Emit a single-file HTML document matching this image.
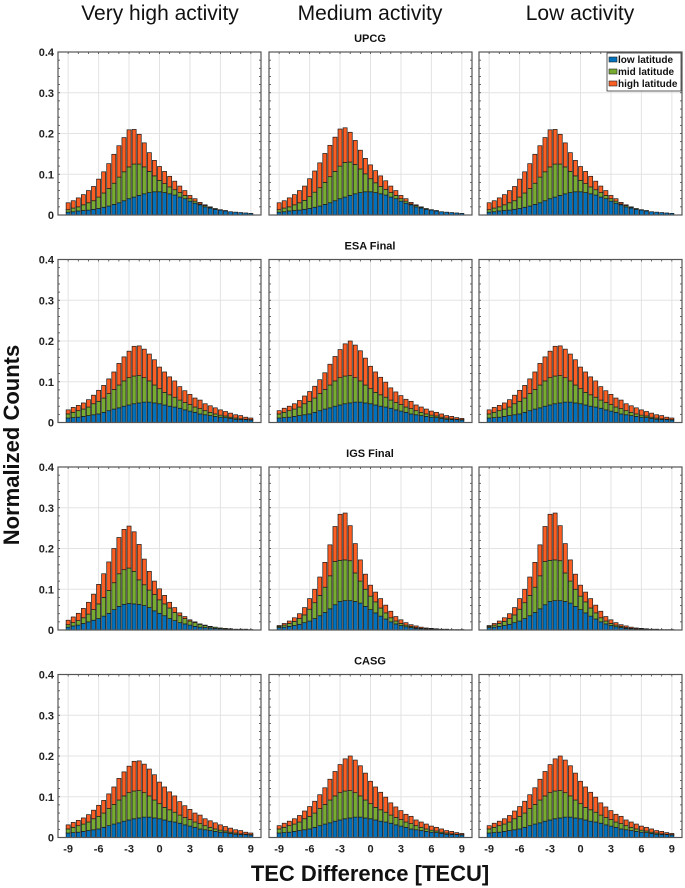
<!DOCTYPE html>
<html><head><meta charset="utf-8">
<style>
html,body{margin:0;padding:0;background:#fff;}
svg{display:block;font-family:"Liberation Sans",Arial,sans-serif;}
</style></head>
<body>
<svg id="fig" width="685" height="888" viewBox="0 0 685 888" xmlns="http://www.w3.org/2000/svg">
<text x="160" y="20" font-size="21" text-anchor="middle" fill="#111">Very high activity</text>
<text x="370" y="20" font-size="21" text-anchor="middle" fill="#111">Medium activity</text>
<text x="580" y="20" font-size="21" text-anchor="middle" fill="#111">Low activity</text>
<text transform="translate(19,445) rotate(-90)" font-size="22" font-weight="bold" text-anchor="middle" fill="#111">Normalized Counts</text>
<text x="370" y="881" font-size="22" font-weight="bold" text-anchor="middle" fill="#111">TEC Difference [TECU]</text>
<g id="panels"></g>
</svg>
<script>
const bins=[-9,-8.5,-8,-7.5,-7,-6.5,-6,-5.5,-5,-4.5,-4,-3.5,-3,-2.5,-2,-1.5,-1,-0.5,0,0.5,1,1.5,2,2.5,3,3.5,4,4.5,5,5.5,6,6.5,7,7.5,8,8.5,9];
const rowTitles=["UPCG","ESA Final","IGS Final","CASG"];
const xTicks=[-9,-6,-3,0,3,6,9];
const xTickLabels=["-9","-6","-3","0","3","6","9"];
const yTicks=[0,0.1,0.2,0.3,0.4];
const yTickLabels=["0","0.1","0.2","0.3","0.4"];
const seriesNames=["low latitude","mid latitude","high latitude"];
// UPCG
const upcgLow=[.007,.008,.010,.011,.012,.014,.016,.019,.022,.026,.030,.035,.040,.044,.048,.052,.055,.057,.057,.055,.052,.049,.044,.040,.034,.029,.025,.020,.017,.014,.012,.010,.008,.007,.006,.005,.004];
const upcgMid=[.006,.009,.010,.014,.018,.021,.028,.035,.043,.052,.063,.071,.078,.081,.077,.066,.052,.039,.028,.022,.017,.013,.011,.008,.006,.005,.002,.003,.002,.002,0,0,0,0,0,0,0];
const upcgHigh=[.017,.018,.022,.025,.030,.035,.044,.052,.061,.071,.077,.084,.091,.085,.073,.059,.046,.038,.034,.030,.026,.021,.016,.012,.008,.006,.004,.002,.001,0,.001,.001,0,0,0,0,0];
const upcgMidM=[.006,.009,.010,.014,.018,.022,.029,.037,.045,.054,.064,.072,.080,.085,.082,.072,.058,.044,.032,.024,.018,.014,.011,.008,.006,.005,.002,.003,.002,.002,0,0,0,0,0,0,0];
// ESA Final / CASG
const esaLow=[.011,.012,.013,.015,.017,.019,.021,.025,.029,.033,.036,.040,.043,.046,.048,.050,.050,.048,.046,.043,.040,.038,.035,.031,.028,.025,.021,.019,.017,.015,.013,.012,.010,.008,.007,.007,.006];
const esaMid=[.010,.013,.016,.018,.021,.027,.031,.035,.042,.048,.056,.062,.067,.068,.067,.060,.052,.044,.037,.031,.028,.024,.020,.018,.016,.013,.013,.010,.008,.006,.005,.004,.003,.003,.002,.001,.001];
const esaHigh=[.010,.012,.013,.015,.018,.021,.027,.031,.036,.043,.053,.059,.065,.073,.073,.070,.066,.062,.053,.050,.044,.040,.033,.029,.025,.022,.021,.017,.016,.015,.013,.011,.010,.008,.008,.005,.004];
const esaHighM=[.008,.010,.011,.013,.016,.019,.024,.029,.034,.041,.051,.060,.069,.079,.085,.080,.074,.066,.055,.050,.043,.037,.030,.026,.022,.019,.018,.014,.013,.012,.010,.009,.008,.006,.006,.004,.003];
// IGS Final
const igsLow=[.007,.010,.012,.016,.020,.024,.028,.034,.041,.050,.058,.063,.065,.064,.063,.060,.055,.047,.041,.035,.028,.023,.018,.015,.012,.009,.007,.006,.005,.004,.003,.002,.002,.002,.001,.001,.001];
const igsMid=[.006,.008,.011,.014,.019,.026,.036,.046,.056,.066,.080,.085,.087,.080,.060,.051,.043,.040,.033,.029,.026,.020,.017,.013,.010,.009,.007,.005,.003,.003,.002,.002,.001,0,.001,.001,0];
const igsHigh=[.011,.014,.018,.023,.029,.038,.048,.058,.070,.084,.089,.099,.103,.097,.087,.063,.046,.033,.027,.021,.014,.012,.007,.005,.003,.002,.001,.001,.001,0,0,0,0,0,0,0,0];
const igsLowM=[.006,.007,.009,.011,.014,.018,.022,.028,.035,.043,.052,.062,.070,.072,.072,.070,.066,.058,.050,.042,.034,.027,.020,.015,.011,.008,.006,.004,.003,.002,.002,.001,.001,.001,.001,0,0];
const igsMidM=[.003,.005,.007,.010,.014,.019,.029,.039,.050,.062,.081,.106,.101,.100,.098,.070,.054,.042,.033,.027,.020,.015,.010,.007,.005,.004,.003,.002,.001,.001,.001,.001,0,0,0,.001,.001];
const igsHighM=[.002,.004,.006,.009,.012,.018,.026,.033,.045,.061,.076,.086,.113,.115,.086,.072,.052,.037,.027,.024,.023,.019,.016,.011,.009,.006,.004,.004,.003,.002,.001,.001,.001,.001,0,0,0];

const panelData=[
 [[upcgLow,upcgMid,upcgHigh],[upcgLow,upcgMidM,upcgHigh],[upcgLow,upcgMid,upcgHigh]],
 [[esaLow,esaMid,esaHigh],[esaLow,esaMid,esaHighM],[esaLow,esaMid,esaHigh]],
 [[igsLow,igsMid,igsHigh],[igsLowM,igsMidM,igsHighM],[igsLowM,igsMidM,igsHighM]],
 [[esaLow,esaMid,esaHigh],[esaLow,esaMid,esaHighM],[esaLow,esaMid,esaHighM]]
];
const colors=["#0072BD","#77AC30","#FA5E22"];
const colX=[58,269,479], rowY=[52,259.5,467,674.5], PW=203, PH=163;
const NS="http://www.w3.org/2000/svg";
const root=document.getElementById('panels');
function mk(tag,attrs,parent){const e=document.createElementNS(NS,tag);for(const k in attrs)e.setAttribute(k,attrs[k]);parent.appendChild(e);return e;}

for(let r=0;r<4;r++){
 const t=mk('text',{x:370,y:rowY[r]-10,'font-size':11,'font-weight':'bold','text-anchor':'middle',fill:'#111'},root);
 
 
 t.textContent=rowTitles[r];
 for(let c=0;c<3;c++){
  const x0=colX[c], y0=rowY[r];
  const sx=v=>x0+(v+10)/20*PW;
  const sy=v=>y0+PH-v/0.4*PH;
  const g=mk('g',{},root);
  
  
  mk('rect',{x:x0,y:y0,width:PW,height:PH,fill:'#fff'},g);
  // grid
  xTicks.forEach(v=>{mk('line',{x1:sx(v),x2:sx(v),y1:y0,y2:y0+PH,stroke:'#e3e3e3','stroke-width':1},g);});
  yTicks.slice(1,4).forEach(v=>{mk('line',{x1:x0,x2:x0+PW,y1:sy(v),y2:sy(v),stroke:'#e3e3e3','stroke-width':1},g);});
  // minor ticks
  for(let v=-10;v<=10;v+=1){const X=sx(v);mk('line',{x1:X,x2:X,y1:y0,y2:y0+2,stroke:'#444','stroke-width':0.8},g);mk('line',{x1:X,x2:X,y1:y0+PH,y2:y0+PH-2,stroke:'#444','stroke-width':0.8},g);}
  for(let i=0;i<=20;i++){const Y=sy(i*0.02);mk('line',{x1:x0,x2:x0+2,y1:Y,y2:Y,stroke:'#444','stroke-width':0.8},g);mk('line',{x1:x0+PW,x2:x0+PW-2,y1:Y,y2:Y,stroke:'#444','stroke-width':0.8},g);}
  // bars
  const ser=panelData[r][c];
  const bw=(sx(0.5)-sx(0))*0.8;
  bins.forEach((b,i)=>{
   let base=0;
   for(let s=0;s<3;s++){
    const v=ser[s][i];
    const yt=sy(base+v), yb=sy(base);
    const rect=mk('rect',{x:sx(b)-bw/2,y:yt,width:bw,height:Math.max(0,yb-yt),fill:colors[s],stroke:'#1a1a1a','stroke-width':0.7},g);
    
    
    base+=v;
   }
  });
  mk('rect',{x:x0,y:y0,width:PW,height:PH,fill:'none',stroke:'#555','stroke-width':1.2},g);
  if(c===0){
   yTicks.forEach((v,i)=>{const tl=mk('text',{x:x0-4,y:sy(v)+4,'font-size':11,'font-weight':'bold','text-anchor':'end',fill:'#222'},g);
    
    
    tl.textContent=yTickLabels[i];});
  }
  if(r===3){
   xTicks.forEach((v,i)=>{const tl=mk('text',{x:sx(v),y:y0+PH+15,'font-size':11,'font-weight':'bold','text-anchor':'middle',fill:'#222'},g);
    
    
    tl.textContent=xTickLabels[i];});
  }
 }
}
// legend
const lg=mk('g',{},root);


mk('rect',{x:607,y:53,width:74,height:38,fill:'#fff',stroke:'#333','stroke-width':0.8},lg);
seriesNames.forEach((n,i)=>{
 const sw=mk('rect',{x:609,y:57+i*12,width:8,height:5,fill:colors[i],stroke:'#222','stroke-width':0.6},lg);
 
 
 const t=mk('text',{x:618,y:63+i*12,'font-size':10,'font-weight':'bold',fill:'#111'},lg);
 
 
 t.textContent=n;
});
</script>
</body></html>
